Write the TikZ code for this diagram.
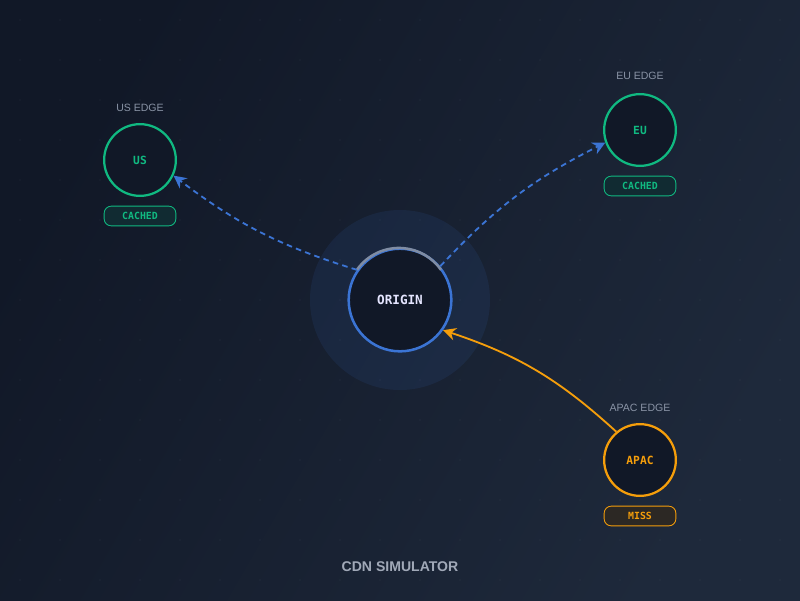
\documentclass[tikz,border=0pt]{standalone}
\usepackage{fontspec}
\setmainfont{Liberation Sans}
\newfontfamily\monofont{DejaVu Sans Mono}
\usetikzlibrary{arrows.meta}
\definecolor{bgdark}{HTML}{111827}
\definecolor{bglight}{HTML}{1E293B}
\definecolor{nodefill}{HTML}{111827}
\definecolor{edgegreen}{HTML}{10B981}
\definecolor{edgeorange}{HTML}{F59E0B}
\definecolor{linkblue}{HTML}{3B74D4}
\definecolor{greytext}{HTML}{8A94A6}
\definecolor{origintop}{HTML}{7F8CA3}
\tikzset{
  edgenode/.style={circle, draw=#1, line width=1.6pt, fill=nodefill, minimum size=51pt,
    text=#1, font=\monofont\bfseries\fontsize{8}{10}\selectfont},
  badge/.style={rounded corners=5pt, draw=#1, line width=0.6pt, fill=#1!12!nodefill,
    minimum width=51pt, minimum height=14pt, inner sep=0pt, text=#1,
    font=\monofont\bfseries\fontsize{7}{8}\selectfont},
  edgelabel/.style={text=greytext, font=\fontsize{7.5}{9}\selectfont},
  link/.style={-{Stealth[length=9pt,width=9pt]}, line width=1.3pt}
}
\begin{document}
\begin{tikzpicture}[x=0.025cm, y=-0.025cm]
  % background
  \shade[left color=bgdark, right color=bglight, shading angle=60] (0,0) rectangle (800,600);
  \useasboundingbox (0,0) rectangle (800,600);
  \foreach \x in {20,60,...,780}
    \foreach \y in {20,60,...,580}
      \fill[white, opacity=0.04] (\x,\y) circle (0.6pt);

  % origin
  \fill[linkblue, opacity=0.1] (400,300) circle (90);
  \node(origin) at (400,300) [circle, draw=linkblue, line width=1.8pt, fill=nodefill,
    minimum size=73pt, text=white!90!blue, font=\monofont\bfseries\fontsize{9}{11}\selectfont]{ORIGIN};
  \draw[origintop, line width=1.8pt] (origin.145) arc (145:35:36.5pt);

  % edges
  \node(US) at (140,160) [edgenode=edgegreen]{US};
  \node(USlab) at (140,108) [edgelabel]{US EDGE};
  \node(USbadge) at (140,216) [badge=edgegreen]{CACHED};

  \node(EU) at (640,130) [edgenode=edgegreen]{EU};
  \node(EUlab) at (640,76) [edgelabel]{EU EDGE};
  \node(EUbadge) at (640,186) [badge=edgegreen]{CACHED};

  \node(APAC) at (640,460) [edgenode=edgeorange]{APAC};
  \node(APAClab) at (640,408) [edgelabel]{APAC EDGE};
  \node(APACbadge) at (640,516) [badge=edgeorange]{MISS};

  % links
  \draw[link, linkblue, dash pattern=on 4pt off 3pt] (origin.145) to [bend left=10] (US.-25);
  \draw[link, linkblue, dash pattern=on 4pt off 3pt] (origin.40) to [bend left=10] (EU.-160);
  \draw[link, edgeorange] (APAC.130) to [bend right=12] (origin.-35);

  \node(title) at (400,567) [text=greytext!80!white, font=\bfseries\fontsize{10}{12}\selectfont]{CDN SIMULATOR};
\end{tikzpicture}
\end{document}
